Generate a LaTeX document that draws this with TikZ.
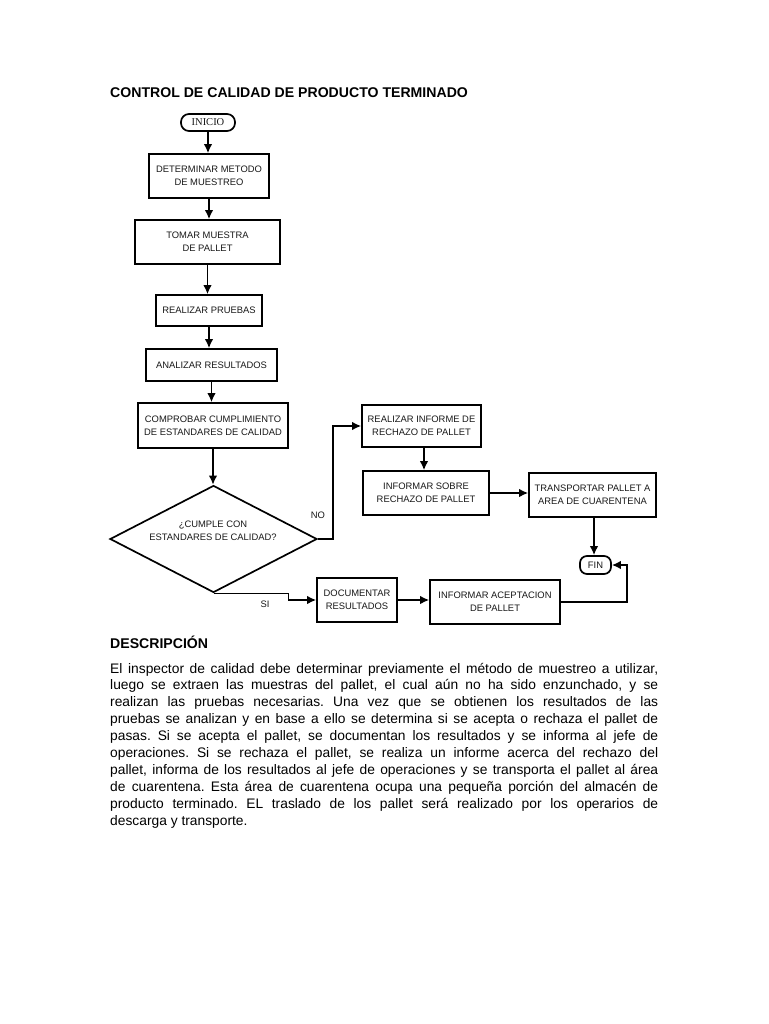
\documentclass[tikz,border=0pt]{standalone}
\usepackage{fontspec}
\setmainfont{Liberation Sans}
\newfontfamily\serifrm{Liberation Serif}
\usetikzlibrary{shapes.geometric,arrows.meta}
\frenchspacing
\begin{document}
\begin{tikzpicture}[x=1pt,y=-1pt,
  boxnode/.style={draw, line width=1.7pt, inner sep=0pt, align=center,
    font=\fontsize{9.4}{13}\selectfont, text=black!90},
  termnode/.style={boxnode, rounded corners=8pt},
  lbl/.style={inner sep=0pt, font=\fontsize{9.4}{13}\selectfont, text=black!90},
  arr/.style={line width=1.6pt, -{Latex[length=9pt,width=8.5pt]}}]
\fill[white] (0,0) rectangle (768,1024);
\useasboundingbox (0,0) rectangle (768,1024);

% title
\node[anchor=base west, inner sep=0pt, font=\fontsize{14.1}{17}\selectfont\bfseries] (title) at (110,98)
  {CONTROL DE CALIDAD DE PRODUCTO TERMINADO};

% main column
\node[termnode, minimum width=54pt, minimum height=17pt, font=\serifrm\fontsize{10.5}{12}\selectfont] (inicio) at (208,122.5) {INICIO};
\node[boxnode, minimum width=120pt, minimum height=44pt] (b1) at (209,176) {DETERMINAR METODO\\DE MUESTREO};
\node[boxnode, minimum width=145pt, minimum height=44pt] (b2) at (207.5,242) {TOMAR MUESTRA\\DE PALLET};
\node[boxnode, minimum width=106pt, minimum height=31pt] (b3) at (209,310.5) {REALIZAR PRUEBAS};
\node[boxnode, minimum width=131pt, minimum height=32pt] (b4) at (211.5,365) {ANALIZAR RESULTADOS};
\node[boxnode, minimum width=150pt, minimum height=45pt] (b5) at (213,425.5) {COMPROBAR CUMPLIMIENTO\\DE ESTANDARES DE CALIDAD};
\node[draw, diamond, shape aspect=2, line width=1.7pt, inner sep=0pt,
      minimum width=207pt, minimum height=107pt] (dia) at (213.5,539) {};
\node[lbl, align=center] (diatext) at (213,531) {¿CUMPLE CON\\ESTANDARES DE CALIDAD?};

% reject branch
\node[boxnode, minimum width=119pt, minimum height=42pt] (r1) at (421.5,426) {REALIZAR INFORME DE\\RECHAZO DE PALLET};
\node[boxnode, minimum width=126pt, minimum height=44pt] (r2) at (426,493) {INFORMAR SOBRE\\RECHAZO DE PALLET};
\node[boxnode, minimum width=127pt, minimum height=44pt] (r3) at (592.5,495) {TRANSPORTAR PALLET A\\AREA DE CUARENTENA};
\node[termnode, minimum width=31pt, minimum height=18pt, rounded corners=7pt] (fin) at (595.5,565) {FIN};

% accept branch
\node[boxnode, minimum width=80pt, minimum height=44pt] (d1) at (357,600) {DOCUMENTAR\\RESULTADOS};
\node[boxnode, minimum width=130pt, minimum height=44pt] (a1) at (495,602) {INFORMAR ACEPTACION\\DE PALLET};

% labels
\node[lbl] (nolbl) at (318,515) {NO};
\node[lbl] (silbl) at (265,604) {SI};

% connectors
\draw[arr] (inicio.south) -- (inicio.south |- b1.north);
\draw[arr] (b1.south) -- (b1.south |- b2.north);
\draw[arr] (b2.south) -- (b2.south |- b3.north);
\draw[arr] (b3.south) -- (b3.south |- b4.north);
\draw[arr] (b4.south) -- (b4.south |- b5.north);
\draw[arr] (b5.south) -- (b5.south |- dia.north);
\draw[arr] (dia.east) -- ++(15,0) |- (r1.west);
\draw[arr] ([xshift=2.5pt]r1.south) -- ([xshift=2.5pt]r1.south |- r2.north);
\draw[arr] (r2.east) -- (r2.east -| r3.west);
\draw[arr] ([xshift=1.5pt]r3.south) -- ([xshift=1.5pt]r3.south |- fin.north);
\draw[arr] (dia.south) -- ++(75,0) |- (d1.west);
\draw[arr] (d1.east) -- (d1.east -| a1.west);
\draw[arr] (a1.east) -- ++(66,0) |- (fin.east);

% description
\node[anchor=base west, inner sep=0pt, font=\fontsize{14.1}{17}\selectfont\bfseries] (deschead) at (110,648) {DESCRIPCIÓN};
\node[anchor=base west, inner sep=0pt, font=\fontsize{13.8}{16.9}\selectfont] (body) at (110,673) {%
\parbox[t]{548pt}{\fontsize{13.8}{16.9}\selectfont
\makebox[548pt][s]{El inspector de calidad debe determinar previamente el método de muestreo a utilizar,}\\
\makebox[548pt][s]{luego se extraen las muestras del pallet, el cual aún no ha sido enzunchado, y se}\\
\makebox[548pt][s]{realizan las pruebas necesarias. Una vez que se obtienen los resultados de las}\\
\makebox[548pt][s]{pruebas se analizan y en base a ello se determina si se acepta o rechaza el pallet de}\\
\makebox[548pt][s]{pasas. Si se acepta el pallet, se documentan los resultados y se informa al jefe de}\\
\makebox[548pt][s]{operaciones. Si se rechaza el pallet, se realiza un informe acerca del rechazo del}\\
\makebox[548pt][s]{pallet, informa de los resultados al jefe de operaciones y se transporta el pallet al área}\\
\makebox[548pt][s]{de cuarentena. Esta área de cuarentena ocupa una pequeña porción del almacén de}\\
\makebox[548pt][s]{producto terminado. EL traslado de los pallet será realizado por los operarios de}\\
descarga y transporte.}};
\end{tikzpicture}
\end{document}
